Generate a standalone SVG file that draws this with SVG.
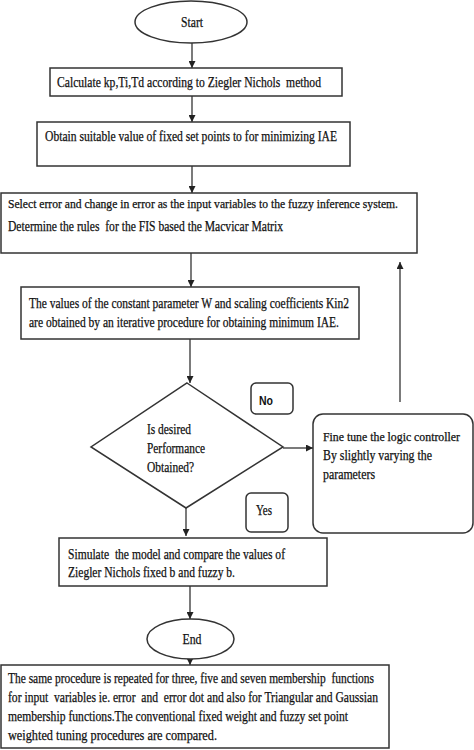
<svg xmlns="http://www.w3.org/2000/svg" width="474" height="750" viewBox="0 0 474 750">
<style>
.box{fill:#fff;stroke:#333;stroke-width:1.5}
.t{font-family:"Liberation Serif","Times New Roman",serif;font-size:14px;fill:#111;stroke:#111;stroke-width:0.25;white-space:pre}
.s{font-size:12px}
.c{stroke:#333;stroke-width:1.3;fill:none}
</style>
<defs>
<marker id="ah" markerUnits="userSpaceOnUse" markerWidth="8" markerHeight="7" refX="7" refY="3.5" orient="auto">
<path d="M0,0 L7,3.5 L0,7 z" fill="#222"/>
</marker>
</defs>
<rect width="474" height="750" fill="#fff"/>
<g id="connectors">
<line class="c" x1="192" y1="43" x2="192" y2="68" marker-end="url(#ah)"/>
<line class="c" x1="192" y1="96" x2="192" y2="122" marker-end="url(#ah)"/>
<line class="c" x1="192" y1="166" x2="192" y2="193" marker-end="url(#ah)"/>
<line class="c" x1="191" y1="253" x2="191" y2="287" marker-end="url(#ah)"/>
<line class="c" x1="190" y1="339" x2="190" y2="383" marker-end="url(#ah)"/>
<line class="c" x1="283" y1="448" x2="313" y2="448" marker-end="url(#ah)"/>
<line class="c" x1="400" y1="402" x2="400" y2="262" marker-end="url(#ah)"/>
<line class="c" x1="186" y1="508" x2="186" y2="536" marker-end="url(#ah)"/>
<line class="c" x1="190" y1="586" x2="190" y2="619" marker-end="url(#ah)"/>
<line class="c" x1="190" y1="659" x2="190" y2="665" marker-end="url(#ah)"/>
</g>
<g id="start">
<ellipse class="box" cx="191" cy="22" rx="56" ry="21"/>
<text class="t" x="192" y="27" text-anchor="middle" textLength="22" lengthAdjust="spacingAndGlyphs">Start</text>
</g>
<g id="calc">
<rect class="box" x="50" y="68" width="292" height="28"/>
<text class="t" x="57" y="87" textLength="264" lengthAdjust="spacingAndGlyphs">Calculate kp,Ti,Td according to Ziegler Nichols  method</text>
</g>
<g id="obtain">
<rect class="box" x="37" y="122" width="313" height="44"/>
<text class="t" x="45" y="141" textLength="292" lengthAdjust="spacingAndGlyphs">Obtain suitable value of fixed set points to for minimizing IAE</text>
</g>
<g id="select">
<rect class="box" x="1" y="193" width="416" height="60"/>
<text class="t s" x="8" y="208" textLength="390" lengthAdjust="spacingAndGlyphs">Select error and change in error as the input variables to the fuzzy inference system.</text>
<text class="t" x="8" y="231" textLength="275" lengthAdjust="spacingAndGlyphs">Determine the rules  for the FIS based the Macvicar Matrix</text>
</g>
<g id="values">
<rect class="box" x="21" y="287" width="338" height="52"/>
<text class="t" x="29" y="308" textLength="320" lengthAdjust="spacingAndGlyphs">The values of the constant parameter W and scaling coefficients Kin2</text>
<text class="t" x="29" y="327" textLength="310" lengthAdjust="spacingAndGlyphs">are obtained by an iterative procedure for obtaining minimum IAE.</text>
</g>
<g id="decision">
<polygon class="box" points="187,383 283,447 186,508 91,447"/>
<text class="t" x="147" y="434" textLength="44" lengthAdjust="spacingAndGlyphs">Is desired</text>
<text class="t" x="147" y="453" textLength="58" lengthAdjust="spacingAndGlyphs">Performance</text>
<text class="t" x="147" y="472" textLength="47" lengthAdjust="spacingAndGlyphs">Obtained?</text>
</g>
<g id="no-label">
<rect class="box" x="251" y="383" width="42" height="31" rx="5"/>
<text x="259" y="405" font-family="Liberation Sans, Arial, sans-serif" font-size="12" font-weight="bold" fill="#111" textLength="14" lengthAdjust="spacingAndGlyphs">No</text>
</g>
<g id="finetune">
<rect class="box" x="313" y="414" width="160" height="119" rx="10"/>
<text class="t s" x="323" y="441" textLength="137" lengthAdjust="spacingAndGlyphs">Fine tune the logic controller</text>
<text class="t" x="323" y="460" textLength="109" lengthAdjust="spacingAndGlyphs">By slightly varying the</text>
<text class="t" x="323" y="479" textLength="52" lengthAdjust="spacingAndGlyphs">parameters</text>
</g>
<g id="yes-label">
<rect class="box" x="246" y="493" width="42" height="39" rx="5"/>
<text class="t" x="256" y="515" textLength="16" lengthAdjust="spacingAndGlyphs">Yes</text>
</g>
<g id="simulate">
<rect class="box" x="59" y="538" width="268" height="48"/>
<text class="t" x="68" y="559" textLength="217" lengthAdjust="spacingAndGlyphs">Simulate  the model and compare the values of</text>
<text class="t" x="68" y="577" textLength="167" lengthAdjust="spacingAndGlyphs">Ziegler Nichols fixed b and fuzzy b.</text>
</g>
<g id="end">
<ellipse class="box" cx="190.5" cy="639" rx="43.5" ry="20"/>
<text class="t" x="192" y="644" text-anchor="middle" textLength="19" lengthAdjust="spacingAndGlyphs">End</text>
</g>
<g id="repeat">
<rect class="box" x="1" y="665" width="388" height="83"/>
<text class="t" x="8" y="683" textLength="366" lengthAdjust="spacingAndGlyphs">The same procedure is repeated for three, five and seven membership  functions</text>
<text class="t" x="8" y="702" textLength="370" lengthAdjust="spacingAndGlyphs">for input  variables ie. error  and  error dot and also for Triangular and Gaussian</text>
<text class="t" x="8" y="721" textLength="340" lengthAdjust="spacingAndGlyphs">membership functions.The conventional fixed weight and fuzzy set point</text>
<text class="t" x="8" y="740" textLength="209" lengthAdjust="spacingAndGlyphs">weighted tuning procedures are compared.</text>
</g>
</svg>
